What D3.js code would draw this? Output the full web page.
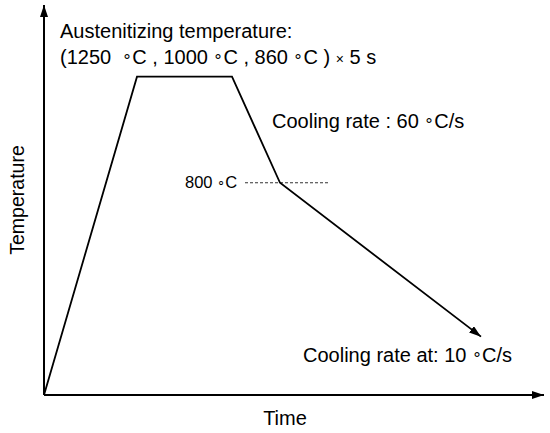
<!DOCTYPE html>
<html>
  <head>
    <script src="https://d3js.org/d3.v7.min.js"></script>
    <style>
      body { margin: 0; background: white; }
      text { font-family: "Liberation Sans", Arial, sans-serif; fill: black; white-space: pre; }
    </style>
  </head>
  <body>
    <script>
      // schematic heat treatment path (time in arbitrary units, temperature in °C)
      const timeSteps = [0, 18.6, 37.6, 47.2, 87.4];
      const temps = [0, 1200, 1200, 800, 220];
      const refTemp = 800;
      const refSpan = [40.2, 56.8];

      const w = 550;
      const h = 433;
      const x0 = 44, y0 = 395;

      const x = d3.scaleLinear().domain([0, 100]).range([x0, 544]);
      const y = d3.scaleLinear().domain([0, 1470]).range([y0, 5]);

      const svg = d3.select('body').append('svg')
        .attr('width', w)
        .attr('height', h);

      const defs = svg.append('defs');
      defs.append('marker')
        .attr('id', 'arrow')
        .attr('viewBox', '0 0 12 8')
        .attr('refX', 12)
        .attr('refY', 4)
        .attr('markerWidth', 12)
        .attr('markerHeight', 8)
        .attr('markerUnits', 'userSpaceOnUse')
        .attr('orient', 'auto')
        .append('path')
        .attr('d', 'M0,0 L12,4 L0,8 Z')
        .attr('fill', 'black');

      // axes
      svg.append('line')
        .attr('x1', x0).attr('y1', y0)
        .attr('x2', x0).attr('y2', y.range()[1])
        .attr('stroke', 'black').attr('stroke-width', 2)
        .attr('marker-end', 'url(#arrow)');
      svg.append('line')
        .attr('x1', x0).attr('y1', y0)
        .attr('x2', x.range()[1]).attr('y2', y0)
        .attr('stroke', 'black').attr('stroke-width', 2)
        .attr('marker-end', 'url(#arrow)');

      // dashed 800 °C reference
      svg.append('line')
        .attr('x1', x(refSpan[0])).attr('x2', x(refSpan[1]))
        .attr('y1', y(refTemp)).attr('y2', y(refTemp))
        .attr('stroke', '#333').attr('stroke-width', 1)
        .attr('stroke-dasharray', '3,2');

      const pts = timeSteps.map((t, i) => [t, temps[i]]);
      svg.append('path')
        .datum(pts)
        .attr('d', d3.line().x(d => x(d[0])).y(d => y(d[1])))
        .attr('fill', 'none')
        .attr('stroke', 'black')
        .attr('stroke-width', 1.8)
        .attr('stroke-linejoin', 'miter')
        .attr('marker-end', 'url(#arrow)');

      // text pieces; 'o' marks a small raised degree ring, 'x' a small times sign
      const label = (tx, ty, parts, size, anchor) => {
        const t = svg.append('text')
          .attr('x', tx).attr('y', ty)
          .attr('font-size', size)
          .attr('text-anchor', anchor || 'start');
        let shift = 0;
        parts.forEach(p => {
          if (p === 'o') {
            t.append('tspan').attr('font-size', size * 0.8).attr('dy', -size * 0.1).text('\u2218');
            shift = size * 0.1;
          } else if (p === 'x') {
            t.append('tspan').attr('font-size', size * 0.7).text('\u00d7');
          } else {
            t.append('tspan').attr('font-size', size).attr('dy', shift).text(p);
            shift = 0;
          }
        });
        return t;
      };

      label(60, 37.5, ['Austenitizing temperature:'], 20);
      label(60, 63.5, ['(1250  ', 'o', 'C , 1000 ', 'o', 'C , 860 ', 'o', 'C ) ', 'x', ' 5 s'], 20);
      label(272, 128, ['Cooling rate : 60 ', 'o', 'C/s'], 20);
      label(185, 188, ['800 ', 'o', 'C'], 16.5);
      label(303, 362, ['Cooling rate at: 10 ', 'o', 'C/s'], 20);
      label(285, 425, ['Time'], 20, 'middle');

      svg.append('text')
        .attr('transform', 'translate(24,200) rotate(-90)')
        .attr('text-anchor', 'middle')
        .attr('font-size', 19.5)
        .text('Temperature');
    </script>
  </body>
</html>
